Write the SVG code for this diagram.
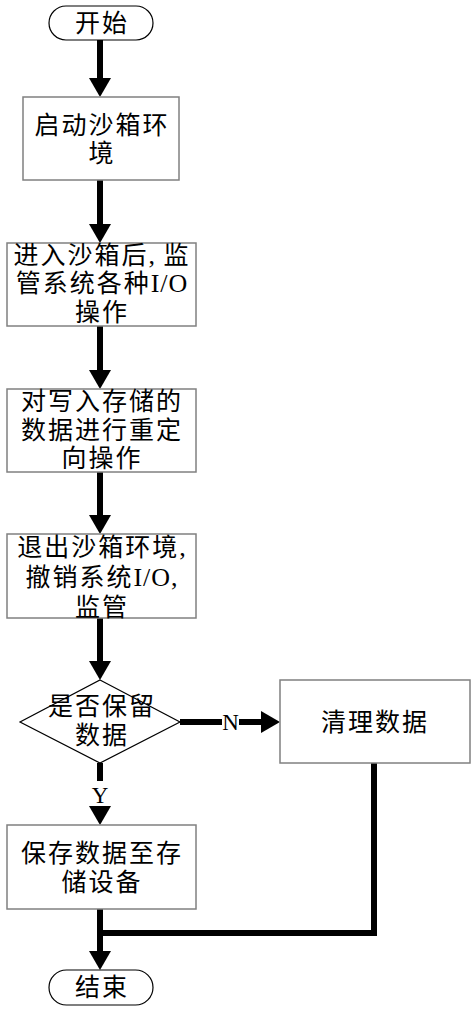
<svg xmlns="http://www.w3.org/2000/svg" width="474" height="1010" viewBox="0 0 474 1010">
<style>
.box{fill:#fff;stroke:#808080;stroke-width:1.5}
.term{fill:#fff;stroke:#000;stroke-width:1.2}
.t{font-family:"Liberation Serif","Noto Sans CJK SC",serif;font-size:25px;letter-spacing:2px;fill:#000;text-anchor:middle;dominant-baseline:central}
.lat{font-size:26px;letter-spacing:1px}
.lbl{font-family:"Liberation Serif",serif;font-size:23px;fill:#000;text-anchor:middle;dominant-baseline:central}
.c{fill:none;stroke:#000;stroke-width:6}
</style>
<defs>
<marker id="ah" viewBox="0 0 19 22" refX="0" refY="11" markerWidth="19" markerHeight="22" markerUnits="userSpaceOnUse" orient="auto">
<path d="M0,0 L19,11 L0,22 z" fill="#000"/>
</marker>
</defs>
<rect width="474" height="1010" fill="#fff"/>
<g id="connectors">
<path class="c" d="M100,40 V78" marker-end="url(#ah)"/>
<path class="c" d="M100,180 V224" marker-end="url(#ah)"/>
<path class="c" d="M100,326 V370" marker-end="url(#ah)"/>
<path class="c" d="M100,472 V515" marker-end="url(#ah)"/>
<path class="c" d="M100,618 V661" marker-end="url(#ah)"/>
<path class="c" d="M180,722 H261" marker-end="url(#ah)"/>
<rect x="222" y="710" width="17" height="24" fill="#fff"/>
<text class="lbl" x="230.5" y="722">N</text>
<path class="c" d="M100,763 V806" marker-end="url(#ah)"/>
<rect x="90" y="781" width="20" height="25" fill="#fff"/>
<text class="lbl" x="100" y="795">Y</text>
<path class="c" d="M100,909 V951" marker-end="url(#ah)"/>
<path class="c" d="M374,763 V933 H100" stroke-width="5"/>
</g>
<g id="start">
<rect class="term" x="49" y="6" width="104" height="34" rx="17"/>
<text class="t" x="102" y="23">开始</text>
</g>
<g id="box1">
<rect class="box" x="23" y="97" width="156" height="83"/>
<text class="t" x="102" y="125">启动沙箱环</text>
<text class="t" x="102" y="153">境</text>
</g>
<g id="box2">
<rect class="box" x="7" y="243" width="189" height="83"/>
<text class="t" x="102" y="255">进入沙箱后<tspan class="lat">, </tspan>监</text>
<text class="t" x="102" y="283">管系统各种<tspan class="lat">I/O</tspan></text>
<text class="t" x="102" y="312">操作</text>
</g>
<g id="box3">
<rect class="box" x="7" y="389" width="189" height="83"/>
<text class="t" x="102" y="401">对写入存储的</text>
<text class="t" x="102" y="430">数据进行重定</text>
<text class="t" x="102" y="458">向操作</text>
</g>
<g id="box4">
<rect class="box" x="7" y="534" width="189" height="84"/>
<text class="t" x="102" y="547">退出沙箱环境<tspan class="lat">,</tspan></text>
<text class="t" x="102" y="577">撤销系统<tspan class="lat">I/O,</tspan></text>
<text class="t" x="102" y="607">监管</text>
</g>
<g id="decision">
<polygon class="term" points="100,680 180,722 100,763 20,722"/>
<text class="t" x="102" y="706">是否保留</text>
<text class="t" x="102" y="735">数据</text>
</g>
<g id="clean">
<rect class="box" x="280" y="680" width="190" height="83"/>
<text class="t" x="375" y="722">清理数据</text>
</g>
<g id="save">
<rect class="box" x="7" y="825" width="189" height="84"/>
<text class="t" x="102" y="853">保存数据至存</text>
<text class="t" x="102" y="882">储设备</text>
</g>
<g id="end">
<rect class="term" x="49" y="970" width="104" height="35" rx="17.5"/>
<text class="t" x="102" y="987">结束</text>
</g>
</svg>
